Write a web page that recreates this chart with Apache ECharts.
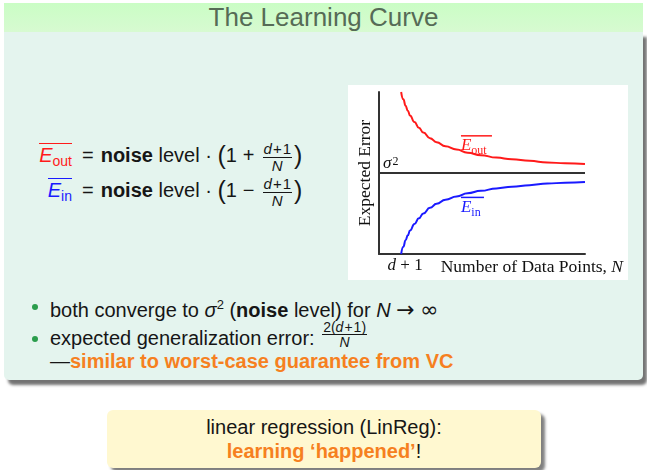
<!DOCTYPE html>
<html><head><meta charset="utf-8">
<script src="https://cdn.jsdelivr.net/npm/echarts@6/dist/echarts.min.js"></script>
<style>
html,body{margin:0;padding:0;background:#fff;}
body{width:647px;height:470px;position:relative;overflow:hidden;font-family:"Liberation Sans",Arial,sans-serif;color:#161616;}
#title{position:absolute;left:4px;top:3px;width:639px;height:29px;background:linear-gradient(#cafdc5,#d7fad1);color:#566b56;font-size:26px;line-height:29px;text-align:center;}
#body{position:absolute;left:4px;top:32px;width:639px;height:348px;background:#e4f4ee;border-radius:0 0 5px 5px;box-shadow:4px 5px 3px rgba(0,0,0,0.55);}
.eq{position:absolute;left:0;height:34px;display:flex;align-items:center;font-size:20px;white-space:nowrap;}
.lhs{display:inline-block;width:72px;text-align:right;}
.ol{display:inline-block;border-top:1.5px solid;line-height:19px;padding-top:2px;}
.sb{font-size:14px;position:relative;top:4px;}
.eqs{margin:0 7px 0 10px;}
.par{font-size:25px;line-height:20px;}
.op{margin:0 6px;}
.frac{display:inline-flex;flex-direction:column;align-items:center;vertical-align:middle;font-size:15px;line-height:14px;margin:0 2px;position:relative;top:2px;}
.frac .nu{border-bottom:1px solid #161616;padding:0 1px 1px 1px;}
.frac .de{padding-top:1px;}
.pm{margin:0 1px;}
.bl{position:absolute;left:50px;font-size:20px;line-height:24px;white-space:nowrap;}
.dot{position:absolute;left:32px;width:6px;height:6px;border-radius:50%;background:#2a9d4c;}
.sym{font-family:"DejaVu Sans",sans-serif;font-size:22px;line-height:20px;}
.org{color:#f6801f;font-weight:bold;}
#box{position:absolute;left:107px;top:410px;width:434px;height:58px;background:#fff8d0;border-radius:6px;box-shadow:4px 4px 3px rgba(0,0,0,0.5);text-align:center;font-size:20px;line-height:24px;padding-top:5px;box-sizing:border-box;}
#chart{position:absolute;left:348px;top:85px;width:280px;height:195px;background:#fff;}
</style>
</head><body>
<div id="title">The Learning Curve</div>
<div id="body"></div>

<div class="eq" style="top:138px"><span class="lhs"><span class="ol" style="color:#ff1a1a;border-top-color:#ff1a1a"><i>E</i><span class="sb">out</span></span></span><span class="eqs">=</span><b>noise</b>&nbsp;level&nbsp;·&nbsp;<span class="par">(</span>1<span class="op">+</span><span class="frac"><span class="nu"><i>d</i><span class="pm">+</span>1</span><span class="de"><i>N</i></span></span><span class="par">)</span></div>
<div class="eq" style="top:173px"><span class="lhs"><span class="ol" style="color:#1a1aff;border-top-color:#1a1aff"><i>E</i><span class="sb">in</span></span></span><span class="eqs">=</span><b>noise</b>&nbsp;level&nbsp;·&nbsp;<span class="par">(</span>1<span class="op">−</span><span class="frac"><span class="nu"><i>d</i><span class="pm">+</span>1</span><span class="de"><i>N</i></span></span><span class="par">)</span></div>

<div id="chart"></div>

<div class="dot" style="top:304px"></div>
<div class="bl" style="top:293px">both converge to <i>σ</i><sup style="font-size:13px">2</sup> (<b>noise</b> level) for <i>N</i> <span class="sym">→</span> <span class="sym">∞</span></div>
<div class="dot" style="top:336px"></div>
<div class="bl" style="top:326px">expected generalization error: <span class="frac" style="font-size:14px;line-height:12px;top:-5px"><span class="nu">2(<i>d</i><span class="pm">+</span>1)</span><span class="de"><i>N</i></span></span></div>
<div class="bl" style="top:353px;line-height:16px">—<span class="org">similar to worst-case guarantee from VC</span></div>

<div id="box">linear regression (LinReg):<br><span class="org">learning ‘happened’</span>!</div>

<script>
// values
const N    = [10, 11, 12, 13, 14, 16, 18, 20, 23, 26, 30, 35, 40, 46, 53, 60, 68, 76, 84, 93];
const Eout = [2.00, 1.91, 1.83, 1.77, 1.71, 1.63, 1.56, 1.50, 1.43, 1.38, 1.33, 1.29, 1.25, 1.22, 1.19, 1.17, 1.15, 1.13, 1.12, 1.11];
const Ein  = [0.00, 0.09, 0.17, 0.23, 0.29, 0.37, 0.44, 0.50, 0.57, 0.62, 0.67, 0.71, 0.75, 0.78, 0.81, 0.83, 0.85, 0.87, 0.88, 0.89];
const sigma2 = 1;
const dPlus1 = 10;
const xMax = 93;
const yMax = 2;

const serif = '"Liberation Serif","DejaVu Serif",serif';
const ink = '#111';
const red = '#ff1a1a', blue = '#1a1aff';

function errLabel(sub, color, w) {
  return {
    show: true, position: 'right', distance: 0,
    formatter: '{ol|}\n{E|E}{sub|' + sub + '}',
    rich: {
      ol: {width: w, height: 1.5, backgroundColor: color, lineHeight: 3},
      E: {fontFamily: serif, fontStyle: 'italic', fontSize: 17, color: color, lineHeight: 16, verticalAlign: 'top'},
      sub: {fontFamily: serif, fontSize: 12, color: color, lineHeight: 12, padding: [8, 0, 0, 0], verticalAlign: 'top'}
    }
  };
}

const chart = echarts.init(document.getElementById('chart'));
chart.setOption({
  animation: false,
  backgroundColor: '#fff',
  grid: {left: 29, top: 7, width: 208, height: 162},
  xAxis: {
    type: 'value', min: 0, max: xMax, interval: dPlus1,
    axisLine: {show: true, onZero: false, lineStyle: {color: '#333', width: 2}},
    axisTick: {show: false}, splitLine: {show: false},
    axisLabel: {
      margin: 3, padding: [0, 0, 0, 8],
      formatter: v => v === dPlus1 ? '{i|d} + 1' : '',
      fontFamily: serif, fontSize: 17, color: ink,
      rich: {i: {fontFamily: serif, fontStyle: 'italic', fontSize: 17, color: ink}}
    },
    name: 'Number of Data Points, {i|N}', nameLocation: 'end', nameGap: 38,
    nameTextStyle: {
      align: 'right', verticalAlign: 'top', padding: [4, 0, 0, 0],
      fontFamily: serif, fontSize: 17.5, color: ink,
      rich: {i: {fontFamily: serif, fontStyle: 'italic', fontSize: 17.5, color: ink}}
    }
  },
  yAxis: {
    type: 'value', min: 0, max: yMax,
    axisLine: {show: true, lineStyle: {color: '#333', width: 2}},
    axisTick: {show: false}, axisLabel: {show: false}, splitLine: {show: false},
    name: 'Expected Error', nameLocation: 'middle', nameGap: 5,
    nameTextStyle: {fontFamily: serif, fontSize: 17.5, color: ink}
  },
  series: [
    {
      name: 'Eout', type: 'line', symbol: 'none', smooth: 0.5, smoothMonotone: 'x',
      data: N.map((n, i) => [n, Eout[i]]),
      lineStyle: {color: red, width: 2},
      markPoint: {symbol: 'circle', symbolSize: 0, silent: true,
        data: [{coord: [37, 1.36]}], label: errLabel('out', red, 31)},
      markLine: {
        symbol: 'none', silent: true,
        data: [{yAxis: sigma2}],
        lineStyle: {color: '#333', width: 1.8, type: 'solid'},
        label: {
          position: 'insideStartTop', distance: [4, 1],
          formatter: '{s|σ}{sup|2}',
          rich: {
            s: {fontFamily: serif, fontStyle: 'italic', fontSize: 17, color: ink, lineHeight: 16, verticalAlign: 'bottom'},
            sup: {fontFamily: serif, fontSize: 12, color: ink, lineHeight: 12, padding: [0, 0, 7, 1], verticalAlign: 'top'}
          }
        }
      }
    },
    {
      name: 'Ein', type: 'line', symbol: 'none', smooth: 0.5, smoothMonotone: 'x',
      data: N.map((n, i) => [n, Ein[i]]),
      lineStyle: {color: blue, width: 2},
      markPoint: {symbol: 'circle', symbolSize: 0, silent: true,
        data: [{coord: [37, 0.60]}], label: errLabel('in', blue, 23)}
    }
  ]
});
</script>
</body></html>
